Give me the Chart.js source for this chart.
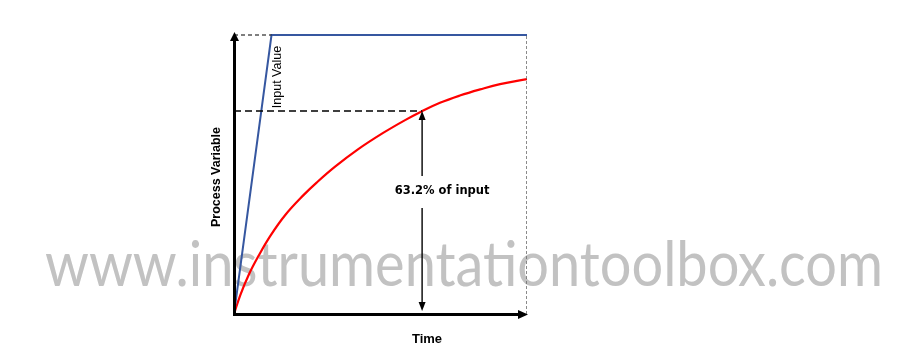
<!DOCTYPE html>
<html>
<head>
<meta charset="utf-8">
<script src="https://cdn.jsdelivr.net/npm/chart.js@4/dist/chart.umd.min.js"></script>
<style>
html,body{margin:0;padding:0;background:#fff;}
canvas{display:block;}
</style>
</head>
<body>
<canvas id="c" width="921" height="360"></canvas>
<script>
// ---- data ----
const responseTime   = [0, 0.215, 0.50, 0.82, 1.24, 1.75, 2.38, 2.82, 3.45, 4.23, 5.09, 5.84, 6.40, 7.03, 7.71, 8.40, 9.08, 10];
const responseValues = [0, 0.068, 0.140, 0.205, 0.280, 0.355, 0.427, 0.471, 0.528, 0.590, 0.649, 0.695, 0.726, 0.757, 0.783, 0.805, 0.824, 0.842];
const inputTime   = [0, 1.28, 10];
const inputValues = [0, 1, 1];
const markerTime  = 6.42;   // where the response reaches the marked level
const markerLevel = 0.728;  // marked level
const inputLevel  = 1;
const endTime     = 10;
const xLabel = 'Time';
const yLabel = 'Process Variable';
const inputLabel = 'Input Value';
const markerLabel = '63.2% of input';
const watermark = 'www.instrumentationtoolbox.com';

const pts = (xs, ys) => xs.map((x, i) => ({x: x, y: ys[i]}));

const decor = {
  id: 'decor',
  beforeDatasetsDraw(chart) {
    const ctx = chart.ctx;
    ctx.save();
    ctx.font = '61px Lato';
    ctx.fillStyle = '#c2c2c2';
    ctx.textBaseline = 'alphabetic';
    const w = ctx.measureText(watermark).width;
    ctx.translate(45, 286);
    ctx.scale(838 / w, 1);
    ctx.fillText(watermark, 0, 0);
    ctx.restore();
  },
  afterDatasetsDraw(chart) {
    const ctx = chart.ctx;
    const xs = chart.scales.x, ys = chart.scales.y;
    const a = chart.chartArea;
    const x0 = xs.getPixelForValue(0), y0 = ys.getPixelForValue(0);
    ctx.save();
    // axes with arrowheads
    ctx.strokeStyle = '#000'; ctx.fillStyle = '#000';
    ctx.lineWidth = 3; ctx.lineCap = 'butt';
    ctx.beginPath(); ctx.moveTo(x0 + 0.5, y0 + 1.5); ctx.lineTo(x0 + 0.5, a.top + 6); ctx.stroke();
    ctx.beginPath(); ctx.moveTo(x0 + 0.5 - 4.5, a.top + 8); ctx.lineTo(x0 + 0.5, a.top - 1); ctx.lineTo(x0 + 0.5 + 4.5, a.top + 8); ctx.closePath(); ctx.fill();
    const xe = xs.getPixelForValue(endTime);
    ctx.beginPath(); ctx.moveTo(x0 - 1, y0 + 0.5); ctx.lineTo(xe - 6, y0 + 0.5); ctx.stroke();
    ctx.beginPath(); ctx.moveTo(xe - 9, y0 + 0.5 - 4.5); ctx.lineTo(xe + 1, y0 + 0.5); ctx.lineTo(xe - 9, y0 + 0.5 + 4.5); ctx.closePath(); ctx.fill();

    // double arrow at marker
    const mx = xs.getPixelForValue(markerTime);
    const my = ys.getPixelForValue(markerLevel);
    ctx.lineWidth = 1.4;
    ctx.beginPath(); ctx.moveTo(mx, my + 6); ctx.lineTo(mx, 176); ctx.stroke();
    ctx.beginPath(); ctx.moveTo(mx, 208); ctx.lineTo(mx, y0 - 8); ctx.stroke();
    ctx.beginPath(); ctx.moveTo(mx - 3.5, my + 9); ctx.lineTo(mx, my); ctx.lineTo(mx + 3.5, my + 9); ctx.closePath(); ctx.fill();
    ctx.beginPath(); ctx.moveTo(mx - 3.5, y0 - 12); ctx.lineTo(mx, y0 - 3); ctx.lineTo(mx + 3.5, y0 - 12); ctx.closePath(); ctx.fill();

    // texts
    ctx.fillStyle = '#000';
    ctx.textAlign = 'center'; ctx.textBaseline = 'middle';
    ctx.font = 'bold 11.5px "DejaVu Sans"';
    ctx.fillText(markerLabel, mx + 20, 191);
    ctx.font = 'bold 13px "Liberation Sans"';
    ctx.fillText(xLabel, 427, 339);
    ctx.save();
    ctx.translate(217, 177); ctx.rotate(-Math.PI / 2);
    ctx.font = 'bold 12.5px "Liberation Sans"';
    ctx.fillText(yLabel, 0, 0);
    ctx.restore();
    ctx.save();
    ctx.translate(277.5, 77); ctx.rotate(-Math.PI / 2);
    ctx.font = '12.5px "Liberation Sans"';
    ctx.fillText(inputLabel, 0, 0);
    ctx.restore();
    ctx.restore();
  }
};

new Chart(document.getElementById('c'), {
  type: 'line',
  data: {
    datasets: [
      { data: pts([0, inputTime[1]], [inputLevel, inputLevel]), borderColor: '#000', borderWidth: 1.2, borderDash: [4, 3], pointRadius: 0 },
      { data: pts([0, markerTime], [markerLevel, markerLevel]), borderColor: '#000', borderWidth: 1.5, borderDash: [7, 4], pointRadius: 0 },
      { data: pts([endTime, endTime], [0, inputLevel]), borderColor: '#666', borderWidth: 1.5, borderDash: [3, 2], pointRadius: 0 },
      { data: pts(inputTime, inputValues), borderColor: '#3657a0', borderWidth: 2, pointRadius: 0, tension: 0 },
      { data: pts(responseTime, responseValues), borderColor: '#ff0000', borderWidth: 2.2, pointRadius: 0, tension: 0.4 }
    ]
  },
  options: {
    responsive: false,
    animation: false,
    layout: { padding: { left: 234, right: 394, top: 33, bottom: 46 } },
    scales: {
      x: { type: 'linear', min: 0, max: 10, display: false },
      y: { type: 'linear', min: 0, max: 1.0072, display: false }
    },
    plugins: { legend: { display: false }, tooltip: { enabled: false } }
  },
  plugins: [decor]
});
</script>
</body>
</html>
